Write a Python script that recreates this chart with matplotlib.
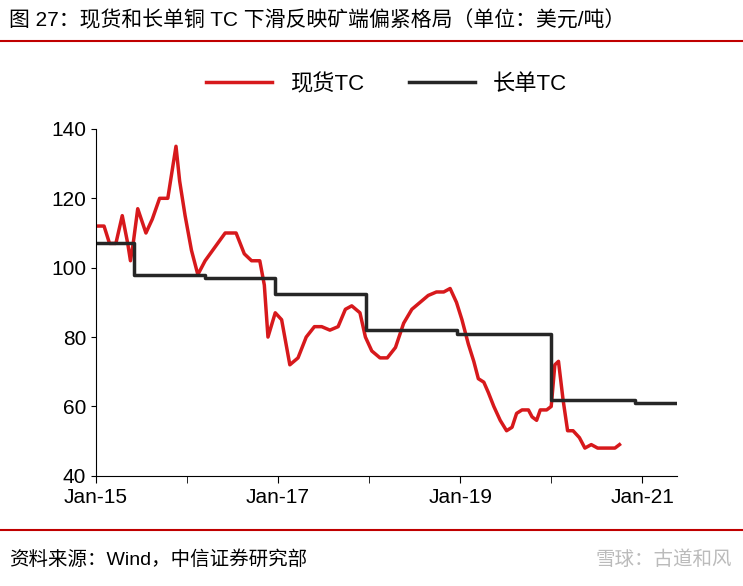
import matplotlib
matplotlib.use("Agg")
import matplotlib.pyplot as plt
import numpy as np

plt.rcParams['font.family'] = ['Liberation Sans', 'Noto Sans CJK SC', 'DejaVu Sans']

# spot TC: (decimal year, value)
spot_x = [2015.00,2015.09,2015.15,2015.22,2015.29,2015.35,2015.38,2015.41,2015.46,2015.55,2015.62,2015.70,2015.79,2015.88,2015.92,2015.98,2016.05,2016.12,2016.20,2016.31,2016.42,2016.54,2016.63,2016.71,2016.80,2016.85,2016.89,2016.97,2017.04,2017.13,2017.22,2017.31,2017.40,2017.48,2017.57,2017.66,2017.74,2017.81,2017.90,2017.96,2018.03,2018.12,2018.20,2018.29,2018.38,2018.47,2018.56,2018.65,2018.74,2018.82,2018.89,2018.96,2019.02,2019.09,2019.15,2019.20,2019.26,2019.31,2019.37,2019.44,2019.51,2019.57,2019.62,2019.68,2019.75,2019.79,2019.84,2019.88,2019.95,2020.00,2020.04,2020.08,2020.13,2020.18,2020.24,2020.31,2020.37,2020.44,2020.51,2020.57,2020.66,2020.70,2020.75]
spot_y = [112,112,107,107,115,107,102,107,117,110,114,120,120,135,125,115,105,98,102,106,110,110,104,102,102,95,80,87,85,72,74,80,83,83,82,83,88,89,87,80,76,74,74,77,84,88,90,92,93,93,94,90,85,78,73,68,67,64,60,56,53,54,58,59,59,57,56,59,59,60,72,73,62,53,53,51,48,49,48,48,48,48,49]

# long-term TC step points
long_x = [2015.00,2015.42,2015.42,2016.00,2016.00,2016.20,2016.20,2016.97,2016.97,2017.97,2017.97,2018.97,2018.97,2020.00,2020.00,2020.92,2020.92,2021.38]
long_y = [107,107,98,98,98,98,97,97,92.5,92.5,82,82,81,81,62,62,61,61]

fig = plt.figure(figsize=(7.43, 5.86), dpi=100)
ax = fig.add_axes([0.129, 0.188, 0.782, 0.592])
ax.plot(spot_x, spot_y, color='#d7191c', lw=2.5, label='现货TC')
ax.plot(long_x, long_y, color='#262626', lw=2.5, label='长单TC')
ax.set_ylim(40, 140)
ax.set_yticks([40, 60, 80, 100, 120, 140])
ax.set_xlim(2015, 2021.38)
ax.set_xticks([2015, 2017, 2019, 2021])
ax.set_xticklabels(['Jan-15', 'Jan-17', 'Jan-19', 'Jan-21'])
ax.set_xticks([2016, 2018, 2020], minor=True)
ax.tick_params(axis='both', labelsize=15, direction='out')
ax.tick_params(axis='x', which='both', length=5)
for s in ['top', 'right']:
    ax.spines[s].set_visible(False)
ax.legend(loc='lower center', bbox_to_anchor=(0.5, 1.04), ncol=2, frameon=False, fontsize=16, handlelength=3, columnspacing=2)

fig.text(0.012, 0.965, '图 27：现货和长单铜 TC 下滑反映矿端偏紧格局（单位：美元/吨）', fontsize=15, va='center')
fig.add_artist(plt.Line2D([0.0, 1.0], [0.93, 0.93], color='#c00000', lw=1.5))
fig.add_artist(plt.Line2D([0.0, 1.0], [0.095, 0.095], color='#c00000', lw=1.5))
fig.text(0.012, 0.045, '资料来源：Wind，中信证券研究部', fontsize=14, va='center')
fig.text(0.985, 0.045, '雪球：古道和风', fontsize=14, va='center', ha='right', color='#bbbbbb')
fig.savefig('out.png', dpi=100)
